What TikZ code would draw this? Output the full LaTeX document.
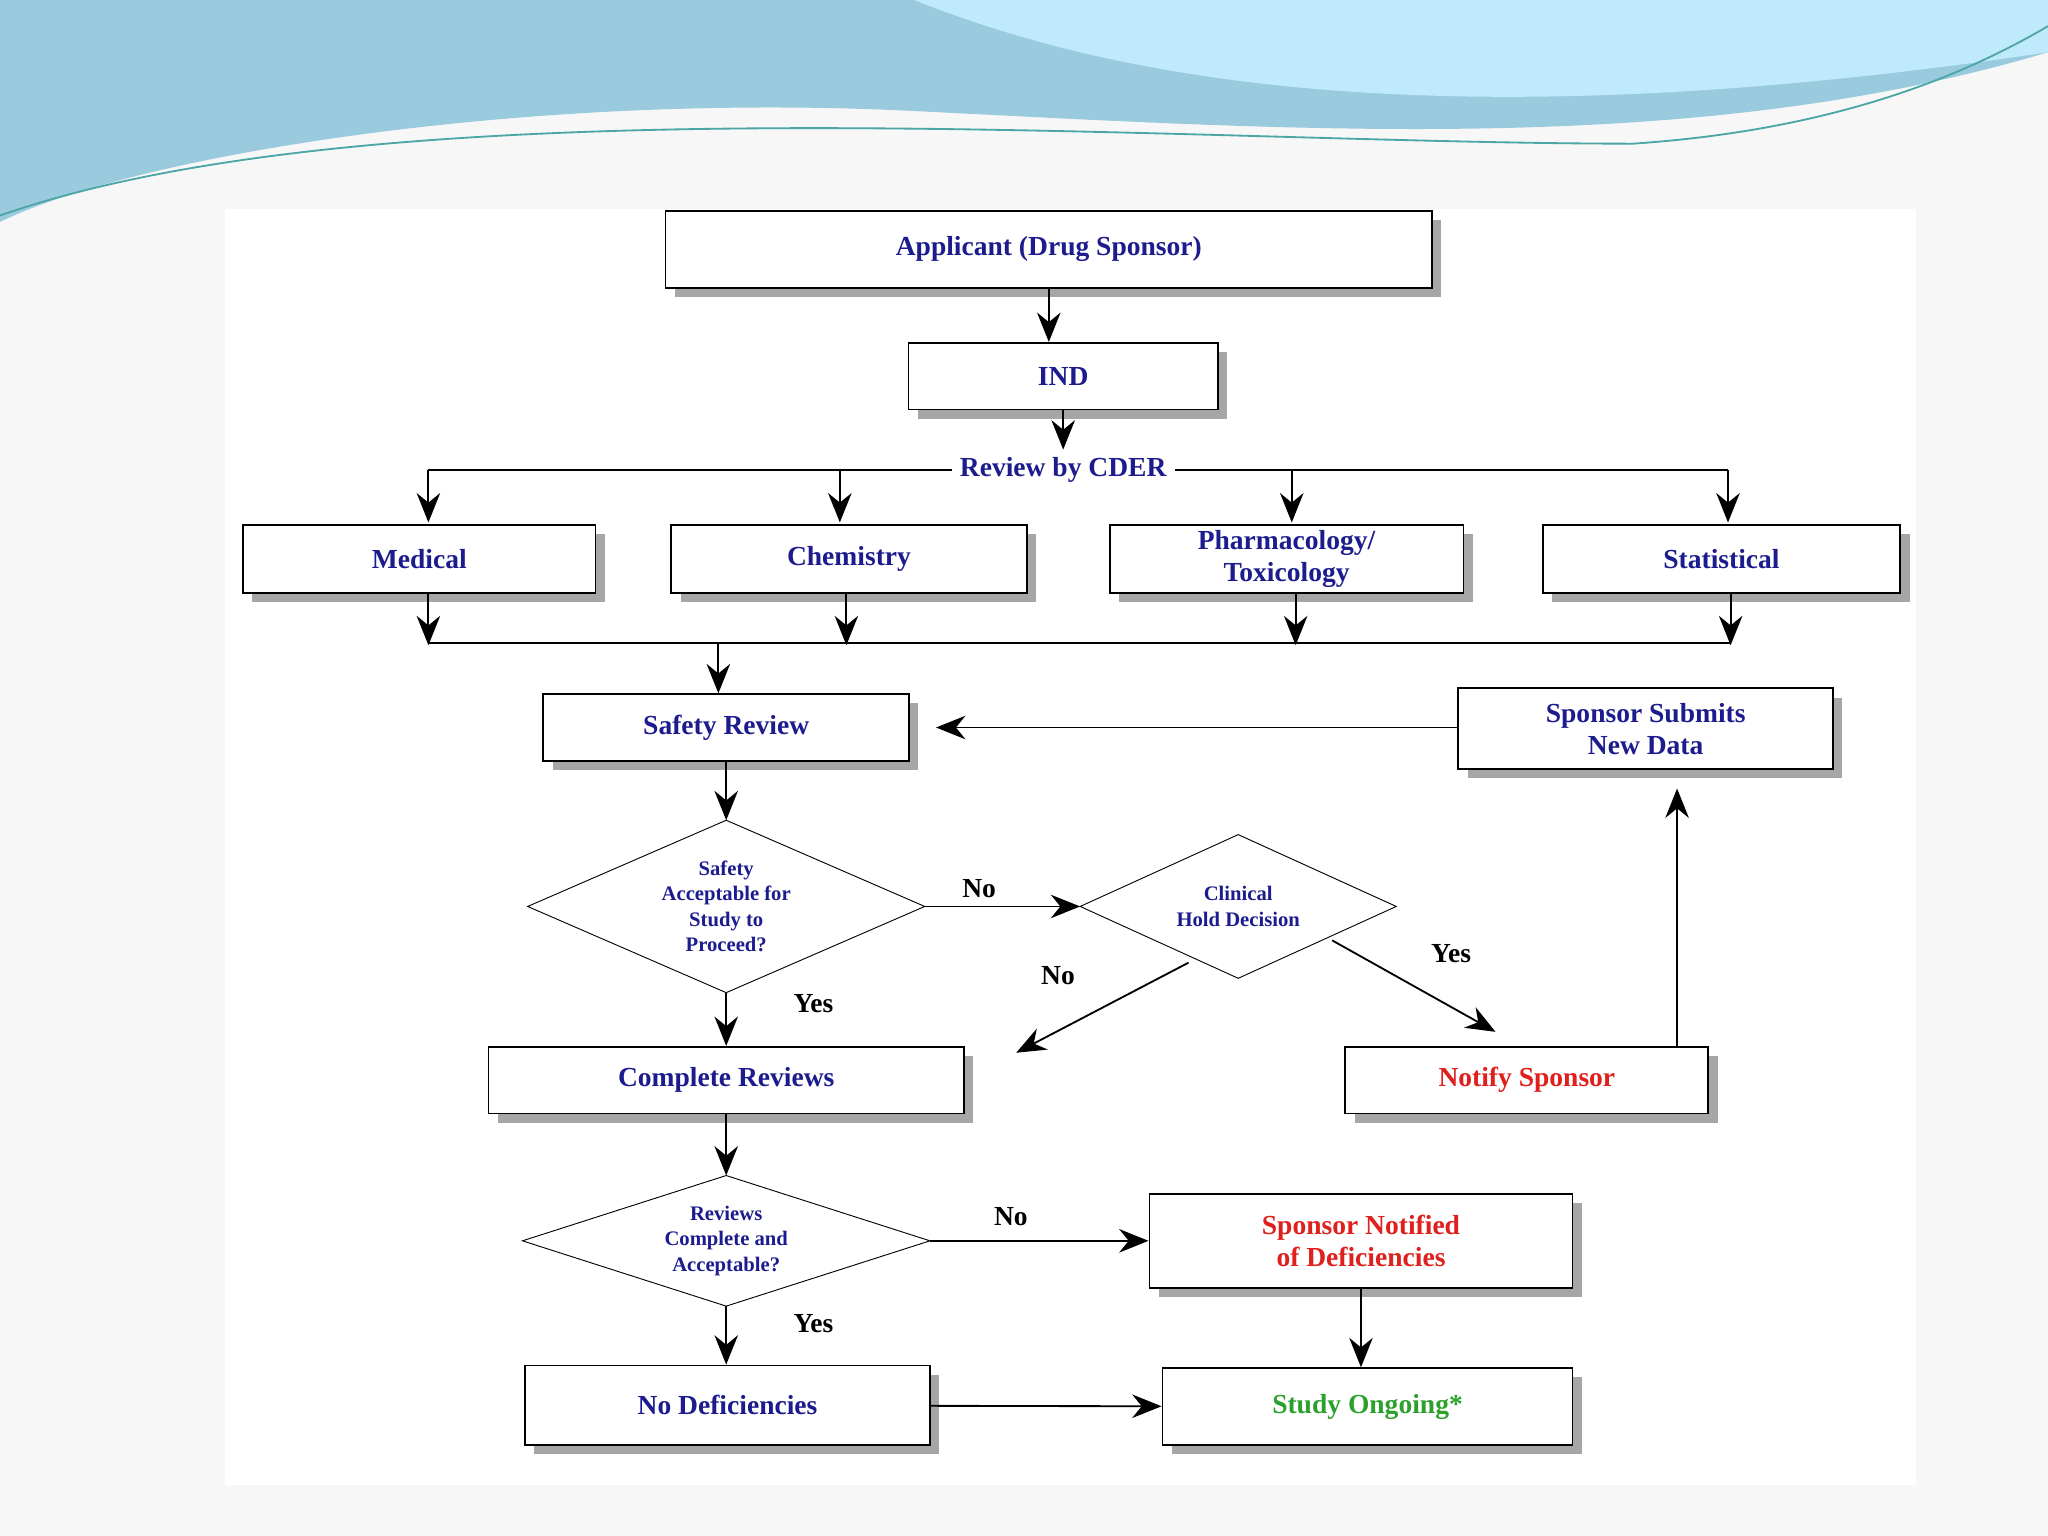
\documentclass[tikz,border=0pt]{standalone}
\usepackage{fontspec}
\setmainfont{Liberation Serif}
\usetikzlibrary{shapes.geometric,positioning,arrows.meta,shadows}
\definecolor{navy}{HTML}{1C1C8E}
\definecolor{alert}{HTML}{E0201C}
\definecolor{okgreen}{HTML}{2CA02C}
\tikzset{
  box/.style={rectangle,draw,thick,fill=white,font=\bfseries\large,text=navy,align=center,
    drop shadow={shadow xshift=4pt,shadow yshift=-4pt,fill=gray!70,opacity=1}},
  test/.style={font=\bfseries\small,text=navy,align=center,inner sep=0pt},
  flow/.style={thick,-{Stealth[length=4.5mm,width=3.6mm]}},
  lab/.style={font=\bfseries\large}
}
% diamond outline around a text node: name, half width, half height
\newcommand{\rhomb}[3]{%
  \coordinate (#1 east) at ([xshift=#2*0.02cm]#1.center);
  \coordinate (#1 west) at ([xshift=-#2*0.02cm]#1.center);
  \coordinate (#1 north) at ([yshift=#3*0.02cm]#1.center);
  \coordinate (#1 south) at ([yshift=-#3*0.02cm]#1.center);
  \draw (#1 east) -- (#1 north) -- (#1 west) -- (#1 south) -- cycle;}
\begin{document}
\begin{tikzpicture}[x=0.02cm,y=-0.02cm]
\useasboundingbox (0,0) rectangle (1568,1176);
\fill[gray!6] (0,0) rectangle (1568,1176);
\fill[white] (172,160) rectangle (1467,1137);
% top band
\fill[cyan!40!teal!45] (0,0) -- (1568,0) -- (1568,40) .. controls (1300,120) and (1000,100) .. (700,85) .. controls (400,70) and (100,120) .. (0,170) -- cycle;
\fill[cyan!25] (700,0) .. controls (850,60) and (1100,110) .. (1568,40) -- (1568,0) -- cycle;
\draw[teal!70,thick] (0,165) .. controls (300,60) and (900,110) .. (1250,110) .. controls (1400,100) and (1500,60) .. (1568,20);
% nodes
\node[box,minimum width=11.74cm,minimum height=1.18cm] (applicant) at (803,191) {Applicant (Drug Sponsor)};
\node[box,minimum width=4.74cm,minimum height=1.02cm] (ind) at (814,288) {IND};
\node[lab,text=navy,fill=white] (cder) at (814,360) {Review by CDER};
\node[box,minimum width=5.4cm,minimum height=1.04cm] (medical) at (321,428) {Medical};
\node[box,minimum width=5.44cm,minimum height=1.04cm] (chemistry) at (650,428) {Chemistry};
\node[box,minimum width=5.42cm,minimum height=1.04cm,inner sep=1pt] (pharm) at (985,428) {Pharmacology/\\Toxicology};
\node[box,minimum width=5.48cm,minimum height=1.04cm] (statistical) at (1318,428) {Statistical};
\node[box,minimum width=5.6cm,minimum height=1.02cm] (safety) at (556,557) {Safety Review};
\node[box,minimum width=5.74cm,minimum height=1.24cm,inner sep=1pt] (newdata) at (1260,558) {Sponsor Submits\\New Data};
\node[test] (acceptable) at (556,694) {Safety\\Acceptable for\\Study to\\Proceed?};
\rhomb{acceptable}{152}{66}
\node[test] (hold) at (948,694) {Clinical\\Hold Decision};
\rhomb{hold}{121}{55}
\node[box,minimum width=7.28cm,minimum height=1.02cm] (complete) at (556,827) {Complete Reviews};
\node[box,minimum width=5.56cm,minimum height=1.02cm,text=alert] (notify) at (1169,827) {Notify Sponsor};
\node[test] (reviews) at (556,950) {Reviews\\Complete and\\Acceptable?};
\rhomb{reviews}{156}{50}
\node[box,minimum width=6.48cm,minimum height=1.44cm,text=alert] (deficient) at (1042,950) {Sponsor Notified\\of Deficiencies};
\node[box,minimum width=6.2cm,minimum height=1.22cm] (nodef) at (557,1076) {No Deficiencies};
\node[box,minimum width=6.28cm,minimum height=1.18cm,text=okgreen] (ongoing) at (1047,1077) {Study Ongoing*};
\coordinate (split) at (550,492);
\coordinate (back) at (778,806);
\coordinate (holdsw) at (910,737);
\coordinate (holdse) at (1020,720);
\coordinate (tonotify) at (1145,790);
% connectors
\draw[flow] (applicant) -- (applicant|-ind.north);
\draw[flow] (ind) -- (ind|-cder.north);
\draw[thick] (cder.west) -- (328,360);
\draw[thick] (cder.east) -- (1323,360);
\foreach \x in {328,643,989,1323} \draw[flow] (\x,360) -- (\x,400);
\foreach \x in {328,648,992,1325} \draw[flow] (\x,454) -- (\x,494);
\draw[thick] (328,492) -- (1325,492);
\draw[flow] (split) -- (safety.north-|split);
\draw[flow] (newdata.west|-safety) -- ([xshift=0.4cm]safety.east);
\draw[flow] (safety) -- (acceptable north);
\draw[flow] (acceptable east) -- (hold west) node[lab,pos=0.35,above] {No};
\draw[flow] (holdsw) -- (back);
\node[lab] at (810,747) {No};
\draw[flow] (holdse) -- (tonotify);
\node[lab] at (1111,730) {Yes};
\draw[flow] (acceptable south) -- (complete.north-|acceptable) node[lab,pos=0.2,right=0.9cm] {Yes};
\draw[flow] (notify.north-|1284,0) -- ([yshift=-0.28cm]newdata.south-|1284,0);
\draw[flow] (complete) -- (reviews north);
\draw[flow] (reviews east) -- (deficient.west) node[lab,pos=0.37,above=3pt] {No};
\draw[flow] (deficient) -- (deficient|-ongoing.north);
\draw[flow] (reviews south) -- (nodef.north-|reviews) node[lab,pos=0.3,right=0.9cm] {Yes};
\draw[flow] (nodef) -- (ongoing);
\end{tikzpicture}
\end{document}
